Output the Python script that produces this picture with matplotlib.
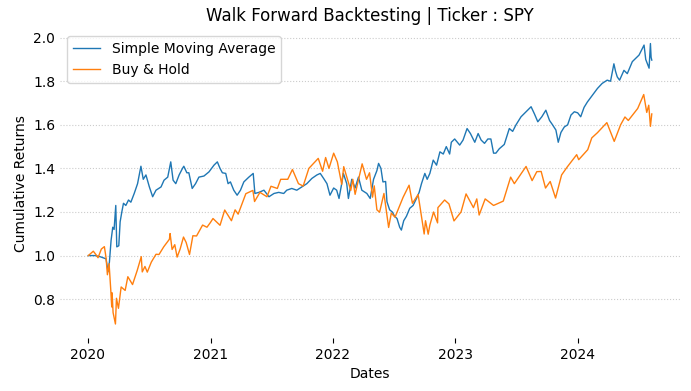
import pandas as pd
import matplotlib
matplotlib.use("Agg")
import matplotlib.pyplot as plt

# Buy & Hold (SPY close / first close)
bh_dates = [
    "2020-01-02", "2020-01-17", "2020-01-27", "2020-01-31", "2020-02-10", "2020-02-19",
    "2020-02-24", "2020-02-28", "2020-03-04", "2020-03-09", "2020-03-12", "2020-03-13",
    "2020-03-16", "2020-03-23", "2020-03-26", "2020-04-01", "2020-04-09", "2020-04-21",
    "2020-04-29", "2020-05-13", "2020-05-27", "2020-06-08", "2020-06-11", "2020-06-19",
    "2020-06-26", "2020-07-08", "2020-07-22", "2020-07-31", "2020-08-14", "2020-08-31",
    "2020-09-02", "2020-09-08", "2020-09-16", "2020-09-23", "2020-10-02", "2020-10-12",
    "2020-10-20", "2020-10-30", "2020-11-09", "2020-11-20", "2020-12-08", "2020-12-21",
    "2020-12-31", "2021-01-08", "2021-01-29", "2021-02-12", "2021-03-04", "2021-03-15",
    "2021-03-24", "2021-04-16", "2021-05-07", "2021-05-12", "2021-05-28", "2021-06-18",
    "2021-06-30", "2021-07-19", "2021-07-29", "2021-08-19", "2021-09-02", "2021-09-20",
    "2021-10-04", "2021-10-21", "2021-11-18", "2021-12-01", "2021-12-10", "2021-12-20",
    "2022-01-03", "2022-01-14", "2022-01-27", "2022-02-02", "2022-02-23", "2022-03-01",
    "2022-03-08", "2022-03-29", "2022-04-11", "2022-04-20", "2022-04-29", "2022-05-04",
    "2022-05-12", "2022-05-20", "2022-06-02", "2022-06-16", "2022-06-24", "2022-07-05",
    "2022-07-29", "2022-08-16", "2022-08-26", "2022-09-12", "2022-09-30", "2022-10-04",
    "2022-10-12", "2022-10-17", "2022-10-28", "2022-11-09", "2022-11-10", "2022-11-30",
    "2022-12-13", "2022-12-28", "2023-01-18", "2023-02-02", "2023-02-24", "2023-03-06",
    "2023-03-13", "2023-03-31", "2023-04-25", "2023-05-24", "2023-06-15", "2023-06-26",
    "2023-07-31", "2023-08-18", "2023-09-01", "2023-09-14", "2023-09-27", "2023-10-11",
    "2023-10-27", "2023-11-14", "2023-11-30", "2023-12-29", "2024-01-04", "2024-01-31",
    "2024-02-12", "2024-02-29", "2024-03-28", "2024-04-19", "2024-05-08", "2024-05-21",
    "2024-05-31", "2024-06-28", "2024-07-16", "2024-07-25", "2024-07-31", "2024-08-05",
    "2024-08-09",
]
bh_values = [
    1.000, 1.020, 1.000, 0.990, 1.030, 1.041,
    0.990, 0.912, 0.963, 0.844, 0.764, 0.829,
    0.738, 0.686, 0.804, 0.758, 0.856, 0.840,
    0.903, 0.867, 0.932, 0.995, 0.925, 0.950,
    0.924, 0.970, 1.006, 1.005, 1.040, 1.075,
    1.101, 1.028, 1.050, 0.993, 1.030, 1.085,
    1.060, 1.005, 1.091, 1.090, 1.140, 1.130,
    1.151, 1.170, 1.139, 1.209, 1.160, 1.210,
    1.190, 1.284, 1.299, 1.248, 1.290, 1.270,
    1.318, 1.308, 1.350, 1.350, 1.395, 1.330,
    1.319, 1.400, 1.446, 1.387, 1.450, 1.400,
    1.470, 1.430, 1.327, 1.408, 1.299, 1.350,
    1.281, 1.421, 1.350, 1.380, 1.268, 1.320,
    1.210, 1.199, 1.285, 1.129, 1.195, 1.176,
    1.267, 1.323, 1.240, 1.280, 1.099, 1.160,
    1.098, 1.140, 1.200, 1.150, 1.220, 1.255,
    1.237, 1.159, 1.200, 1.283, 1.220, 1.260,
    1.186, 1.260, 1.230, 1.250, 1.360, 1.330,
    1.409, 1.344, 1.385, 1.386, 1.310, 1.340,
    1.264, 1.370, 1.405, 1.463, 1.440, 1.486,
    1.540, 1.564, 1.610, 1.524, 1.600, 1.636,
    1.620, 1.675, 1.739, 1.657, 1.690, 1.593,
    1.650,
]

# Simple Moving Average strategy
sma_dates = [
    "2020-01-02", "2020-01-22", "2020-02-06", "2020-02-15", "2020-02-24", "2020-03-01",
    "2020-03-05", "2020-03-10", "2020-03-15", "2020-03-19", "2020-03-24", "2020-03-27",
    "2020-04-02", "2020-04-06", "2020-04-11", "2020-04-16", "2020-04-23", "2020-05-01",
    "2020-05-08", "2020-05-18", "2020-05-28", "2020-06-07", "2020-06-14", "2020-06-22",
    "2020-07-02", "2020-07-12", "2020-07-22", "2020-08-06", "2020-08-15", "2020-08-26",
    "2020-09-04", "2020-09-11", "2020-09-19", "2020-09-29", "2020-10-09", "2020-10-13",
    "2020-10-22", "2020-10-28", "2020-11-07", "2020-11-17", "2020-11-27", "2020-12-12",
    "2020-12-27", "2021-01-11", "2021-01-21", "2021-01-29", "2021-02-05", "2021-02-15",
    "2021-02-22", "2021-03-01", "2021-03-11", "2021-03-21", "2021-03-31", "2021-04-10",
    "2021-04-25", "2021-05-08", "2021-05-13", "2021-05-25", "2021-06-09", "2021-06-24",
    "2021-07-09", "2021-07-23", "2021-08-07", "2021-08-16", "2021-08-31", "2021-09-15",
    "2021-09-30", "2021-10-15", "2021-10-30", "2021-11-14", "2021-11-24", "2021-12-04",
    "2021-12-14", "2021-12-23", "2022-01-03", "2022-01-12", "2022-01-19", "2022-01-27",
    "2022-02-01", "2022-02-11", "2022-02-16", "2022-02-26", "2022-03-08", "2022-03-18",
    "2022-03-28", "2022-04-12", "2022-04-22", "2022-05-02", "2022-05-12", "2022-05-17",
    "2022-05-24", "2022-05-30", "2022-06-07", "2022-06-11", "2022-06-19", "2022-06-27",
    "2022-07-04", "2022-07-11", "2022-07-19", "2022-07-24", "2022-07-31", "2022-08-08",
    "2022-08-18", "2022-08-28", "2022-09-07", "2022-09-15", "2022-09-22", "2022-10-02",
    "2022-10-09", "2022-10-17", "2022-10-27", "2022-11-06", "2022-11-16", "2022-11-26",
    "2022-12-05", "2022-12-15", "2022-12-20", "2022-12-30", "2023-01-14", "2023-01-24",
    "2023-02-05", "2023-02-15", "2023-02-28", "2023-03-10", "2023-03-19", "2023-03-29",
    "2023-04-08", "2023-04-17", "2023-04-25", "2023-05-02", "2023-05-12", "2023-05-27",
    "2023-06-11", "2023-06-21", "2023-07-01", "2023-07-16", "2023-07-31", "2023-08-15",
    "2023-08-25", "2023-09-04", "2023-09-16", "2023-09-28", "2023-10-09", "2023-10-18",
    "2023-10-28", "2023-11-04", "2023-11-12", "2023-11-22", "2023-12-02", "2023-12-12",
    "2023-12-22", "2024-01-01", "2024-01-10", "2024-01-20", "2024-01-30", "2024-02-14",
    "2024-02-29", "2024-03-14", "2024-03-29", "2024-04-08", "2024-04-18", "2024-04-23",
    "2024-04-28", "2024-05-05", "2024-05-18", "2024-05-28", "2024-06-12", "2024-06-22",
    "2024-07-02", "2024-07-12", "2024-07-17", "2024-07-22", "2024-08-01", "2024-08-05",
    "2024-08-07", "2024-08-09",
]
sma_values = [
    1.000, 1.000, 0.995, 0.990, 0.985, 0.926,
    0.970, 1.070, 1.130, 1.120, 1.230, 1.040,
    1.045, 1.155, 1.200, 1.240, 1.230, 1.255,
    1.245, 1.285, 1.330, 1.410, 1.350, 1.370,
    1.316, 1.270, 1.300, 1.315, 1.346, 1.360,
    1.430, 1.346, 1.330, 1.370, 1.400, 1.410,
    1.380, 1.380, 1.308, 1.330, 1.360, 1.365,
    1.384, 1.415, 1.430, 1.400, 1.380, 1.377,
    1.330, 1.338, 1.300, 1.277, 1.300, 1.338,
    1.360, 1.377, 1.285, 1.290, 1.300, 1.270,
    1.285, 1.290, 1.285, 1.300, 1.308, 1.300,
    1.315, 1.330, 1.354, 1.370, 1.377, 1.354,
    1.330, 1.277, 1.310, 1.300, 1.262, 1.330,
    1.377, 1.330, 1.262, 1.350, 1.310, 1.360,
    1.300, 1.285, 1.262, 1.350, 1.390, 1.423,
    1.400, 1.338, 1.340, 1.247, 1.210, 1.200,
    1.180, 1.170, 1.130, 1.117, 1.160, 1.180,
    1.217, 1.230, 1.262, 1.290, 1.330, 1.377,
    1.350, 1.377, 1.438, 1.415, 1.476, 1.466,
    1.500, 1.466, 1.520, 1.535, 1.507, 1.530,
    1.583, 1.560, 1.520, 1.560, 1.530, 1.515,
    1.535, 1.535, 1.470, 1.470, 1.490, 1.510,
    1.583, 1.570, 1.600, 1.637, 1.660, 1.683,
    1.650, 1.614, 1.637, 1.667, 1.620, 1.600,
    1.576, 1.520, 1.565, 1.590, 1.600, 1.645,
    1.660, 1.655, 1.637, 1.680, 1.705, 1.736,
    1.767, 1.790, 1.805, 1.800, 1.880, 1.845,
    1.820, 1.805, 1.850, 1.835, 1.890, 1.905,
    1.920, 1.950, 1.966, 1.900, 1.860, 1.973,
    1.910, 1.897,
]

sma = pd.Series(sma_values, index=pd.to_datetime(sma_dates))
bh = pd.Series(bh_values, index=pd.to_datetime(bh_dates))

fig = plt.figure(figsize=(6.91, 3.91), dpi=100)
ax = fig.add_axes([0.087, 0.1355, 0.897, 0.789])

ax.plot(sma.index, sma.values, color="#1f77b4", lw=1, label="Simple Moving Average")
ax.plot(bh.index, bh.values, color="#ff7f0e", lw=1, label="Buy & Hold")

ax.set_title("Walk Forward Backtesting | Ticker : SPY")
ax.set_xlabel("Dates")
ax.set_ylabel("Cumulative Returns")
ax.legend(loc="upper left")

ax.grid(axis="y", linestyle=":", color="#cccccc")
for s in ax.spines.values():
    s.set_visible(False)
ax.tick_params(axis="y", length=0)

fig.savefig("out.png", dpi=100)
